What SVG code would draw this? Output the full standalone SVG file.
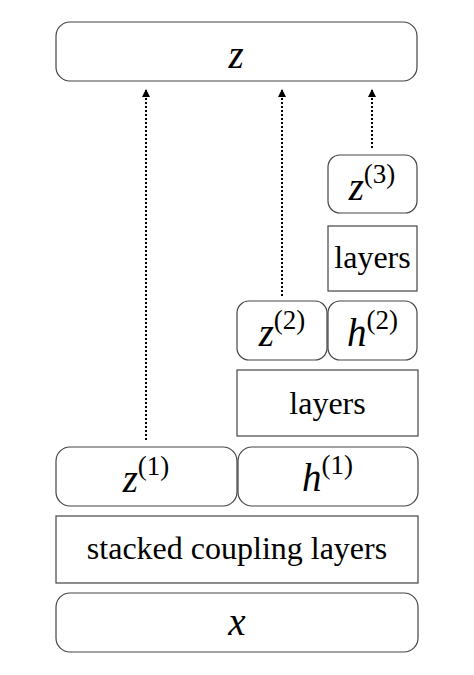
<svg xmlns="http://www.w3.org/2000/svg" width="474" height="675" viewBox="0 0 474 675">
<style>
.box{fill:#fff;stroke:#444;stroke-width:1.2}
.t{font-family:"Liberation Serif","Times New Roman",serif;font-size:32px;fill:#000;text-anchor:middle}
.m{font-style:italic;font-size:39px}
.s{font-size:27px}
.c{fill:none;stroke:#000;stroke-width:2;stroke-dasharray:2 2}
</style>
<defs>
<marker id="ah" viewBox="0 0 10 10" refX="10" refY="5" markerWidth="8" markerHeight="8" markerUnits="userSpaceOnUse" orient="auto">
<path d="M0,0 L10,5 L0,10 Z" fill="#000"/>
</marker>
</defs>
<rect width="474" height="675" fill="#fff"/>
<g id="z">
<rect class="box" x="56" y="22" width="361" height="59" rx="14"/>
<text class="t" x="236" y="68"><tspan class="m">z</tspan></text>
</g>
<g id="z3">
<rect class="box" x="328" y="155" width="89" height="58" rx="12"/>
<text class="t" x="372" y="200"><tspan class="m">z</tspan><tspan class="s" dy="-17">(3)</tspan></text>
</g>
<g id="layers3">
<rect class="box" x="328" y="226" width="89" height="65"/>
<text class="t" x="372.5" y="268">layers</text>
</g>
<g id="z2">
<rect class="box" x="237" y="301" width="90" height="59" rx="12"/>
<text class="t" x="282" y="346"><tspan class="m">z</tspan><tspan class="s" dy="-17">(2)</tspan></text>
</g>
<g id="h2">
<rect class="box" x="328" y="301" width="89" height="59" rx="12"/>
<text class="t" x="372.5" y="346"><tspan class="m">h</tspan><tspan class="s" dy="-17">(2)</tspan></text>
</g>
<g id="layers2">
<rect class="box" x="237" y="370" width="181" height="66"/>
<text class="t" x="327.5" y="414">layers</text>
</g>
<g id="z1">
<rect class="box" x="56" y="447" width="181" height="59" rx="14"/>
<text class="t" x="146" y="492"><tspan class="m">z</tspan><tspan class="s" dy="-17">(1)</tspan></text>
</g>
<g id="h1">
<rect class="box" x="238" y="447" width="180" height="59" rx="14"/>
<text class="t" x="327.5" y="491"><tspan class="m">h</tspan><tspan class="s" dy="-17">(1)</tspan></text>
</g>
<g id="stacked">
<rect class="box" x="56" y="516" width="362" height="67"/>
<text class="t" x="237" y="559">stacked coupling layers</text>
</g>
<g id="x">
<rect class="box" x="56" y="593" width="362" height="59" rx="14"/>
<text class="t" x="237" y="635"><tspan class="m">x</tspan></text>
</g>
<g id="connectors">
<line class="c" x1="146" y1="440" x2="146" y2="89" marker-end="url(#ah)"/>
<line class="c" x1="282" y1="296" x2="282" y2="89" marker-end="url(#ah)"/>
<line class="c" x1="372" y1="148" x2="372" y2="89" marker-end="url(#ah)"/>
</g>
</svg>
